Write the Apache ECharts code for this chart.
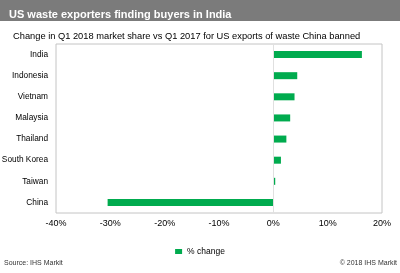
<!DOCTYPE html>
<html>
<head>
<meta charset="utf-8">
<script src="https://cdn.jsdelivr.net/npm/echarts@6.0.0/dist/echarts.min.js"></script>
<style>
  html, body { margin: 0; padding: 0; background: #fff; }
  #chart { width: 400px; height: 273px; }
</style>
</head>
<body>
<div id="chart"></div>
<script>
// categories top to bottom as shown
const countries = ['India', 'Indonesia', 'Vietnam', 'Malaysia', 'Thailand', 'South Korea', 'Taiwan', 'China'];
const pctChange = [16.3, 4.4, 3.9, 3.1, 2.4, 1.4, 0.35, -30.5];
const xTicks = [-40, -30, -20, -10, 0, 10, 20];

const font = 'Liberation Sans, Arial, sans-serif';
const chart = echarts.init(document.getElementById('chart'));

chart.setOption({
    animation: false,
    backgroundColor: '#fff',
    title: [
        {
            text: 'US waste exporters finding buyers in India',
            left: 4, top: 4,
            textStyle: { color: '#fff', fontSize: 11, fontWeight: 'bold', fontFamily: font }
        },
        {
            text: 'Change in Q1 2018 market share vs Q1 2017 for US exports of waste China banned',
            left: 8, top: 27,
            textStyle: { color: '#000', fontSize: 9.3, fontWeight: 'normal', fontFamily: font }
        }
    ],
    graphic: [
        { type: 'rect', left: 0, top: 0, z: -1, shape: { width: 400, height: 21 }, style: { fill: '#7b7b7b' } },
        { type: 'text', left: 4, top: 260, style: { text: 'Source: IHS Markit', fill: '#333', font: '7px ' + font } },
        { type: 'text', right: 3, top: 260, style: { text: '\u00a9 2018 IHS Markit', fill: '#333', font: '7px ' + font } }
    ],
    legend: {
        top: 242, left: 'center',
        itemWidth: 7, itemHeight: 5, itemGap: 3,
        icon: 'rect',
        textStyle: { fontSize: 8.5, color: '#000', fontFamily: font },
        data: ['% change']
    },
    grid: {
        left: 56, right: 18, top: 44, bottom: 60,
        outerBoundsMode: 'none',
        show: true, borderColor: '#c4c4c4', borderWidth: 1
    },
    xAxis: {
        type: 'value',
        min: xTicks[0], max: xTicks[xTicks.length - 1], interval: 10,
        axisLine: { show: false },
        axisTick: { show: false },
        splitLine: { show: false },
        axisLabel: { formatter: '{value}%', fontSize: 9, color: '#000', fontFamily: font, margin: 6 }
    },
    yAxis: {
        type: 'category',
        inverse: true,
        data: countries,
        axisLine: { show: false },
        axisTick: { show: false },
        axisLabel: { fontSize: 8.3, color: '#000', fontFamily: font, margin: 8 }
    },
    series: [{
        name: '% change',
        type: 'bar',
        data: pctChange,
        barWidth: 7,
        itemStyle: { color: '#00ab4e' },
        markLine: {
            silent: true,
            symbol: 'none',
            label: { show: false },
            lineStyle: { color: '#e0e0e0', type: 'solid', width: 1 },
            data: [{ xAxis: 0 }]
        }
    }]
});
</script>
</body>
</html>
